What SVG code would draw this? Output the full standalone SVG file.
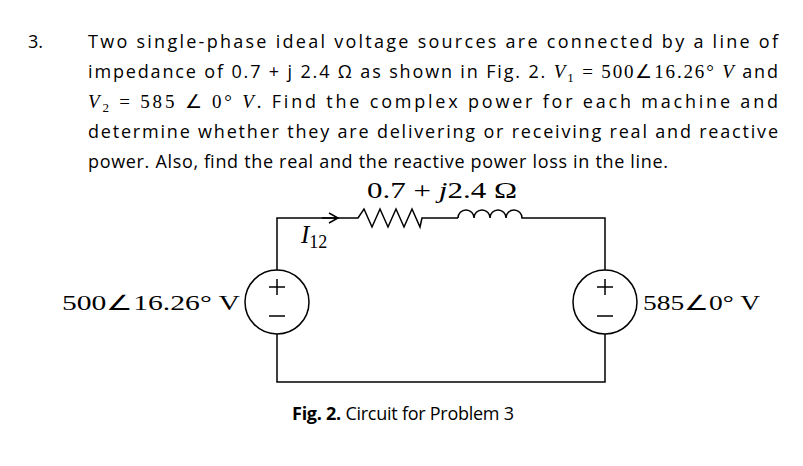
<svg xmlns="http://www.w3.org/2000/svg" width="803" height="466" viewBox="0 0 803 466">
<style>
.t{font-family:"Open Sans","Liberation Sans",sans-serif;font-size:18px;fill:#000}
.m{font-family:"Liberation Serif",serif;font-size:19px}
.i{font-style:italic}
.s{font-family:"Liberation Serif",serif;font-size:21px;fill:#000}
.w{fill:none;stroke:#000;stroke-width:1.5}
</style>
<rect width="803" height="466" fill="#fff"/>
<text class="t" x="28" y="48">3.</text>
<text class="t" x="88" y="48" textLength="690" lengthAdjust="spacing">Two single-phase ideal voltage sources are connected by a line of</text>
<text class="t" x="88" y="78" textLength="690" lengthAdjust="spacing">impedance of 0.7 + j 2.4 Ω as shown in Fig. 2. <tspan class="m i">V</tspan><tspan class="m" style="font-size:13px" dy="4">1</tspan><tspan class="m" dy="-4"> = 500∠16.26° </tspan><tspan class="m i">V</tspan> and</text>
<text class="t" x="88" y="108" textLength="690" lengthAdjust="spacing"><tspan class="m i">V</tspan><tspan class="m" style="font-size:13px" dy="4">2</tspan><tspan class="m" dy="-4"> = 585 ∠ 0° </tspan><tspan class="m i">V</tspan><tspan class="m">.</tspan> Find the complex power for each machine and</text>
<text class="t" x="88" y="138" textLength="690" lengthAdjust="spacing">determine whether they are delivering or receiving real and reactive</text>
<text class="t" x="88" y="168" textLength="580" lengthAdjust="spacing">power. Also, find the real and the reactive power loss in the line.</text>
<g id="connectors">
<path class="w" d="M277,270 V218 H358 L364,209 L372,227 L380,209 L388,227 L396,209 L404,227 L412,209 L420,227 L422,218 H458"/>
<path class="w" d="M458,218 a8,8 0 0 1 16,0 a8,8 0 0 1 16,0 a8,8 0 0 1 16,0 a8,8 0 0 1 16,0 H605 V270"/>
<path class="w" d="M277,334 V382 H605 V334"/>
<path class="w" d="M322,218 H336 M329,213 L338,218 L329,223"/>
</g>
<g id="source1">
<circle class="w" cx="277" cy="302" r="32"/>
<path class="w" d="M269,287 H285 M277,279 V295 M269,316 H285"/>
</g>
<g id="source2">
<circle class="w" cx="605" cy="302" r="32"/>
<path class="w" d="M597,287 H613 M605,279 V295 M597,316 H613"/>
</g>
<text class="s" x="442" y="198" text-anchor="middle" style="font-size:23px" textLength="150" lengthAdjust="spacingAndGlyphs">0.7 + <tspan font-style="italic">j</tspan>2.4 Ω</text>
<text class="s" x="301" y="243" font-style="italic" style="font-size:25px">I<tspan font-style="normal" style="font-size:18px" dy="5">12</tspan></text>
<text class="s" x="62" y="310" textLength="178" lengthAdjust="spacingAndGlyphs">500∠16.26° V</text>
<text class="s" x="643" y="310" textLength="117" lengthAdjust="spacingAndGlyphs">585∠0° V</text>
<text class="t" x="292" y="420" textLength="222" lengthAdjust="spacing"><tspan font-weight="bold">Fig. 2.</tspan> Circuit for Problem 3</text>
</svg>
